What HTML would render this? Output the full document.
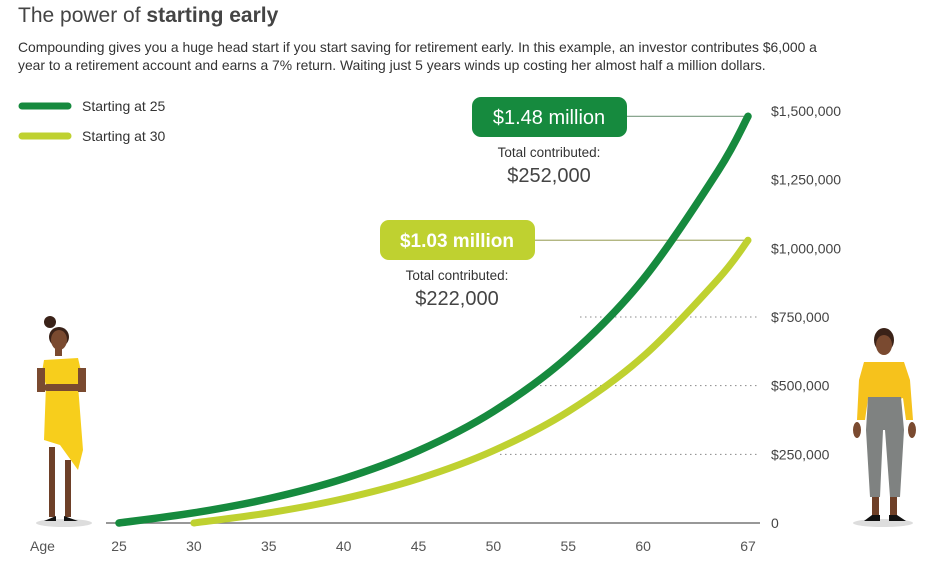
<!DOCTYPE html>
<html><head><meta charset="utf-8"><style>
body{margin:0;background:#fff;width:936px;height:570px;overflow:hidden;font-family:"Liberation Sans",sans-serif;color:#333}
#t{position:absolute;left:18px;top:4px;font-size:21px;color:#444}
#s{position:absolute;left:18px;top:38px;font-size:13.9px;line-height:18px;color:#333;width:820px}
svg{position:absolute;left:0;top:0}
</style></head><body>
<div id="t">The power of <b>starting early</b></div>
<div id="s">Compounding gives you a huge head start if you start saving for retirement early. In this example, an investor contributes $6,000 a year to a retirement account and earns a 7% return. Waiting just 5 years winds up costing her almost half a million dollars.</div>
<svg id="c" width="936" height="570"></svg>
<script>
const ages25=[25,30,35,40,45,50,55,60,65,67];
const vals25=[0,36920,88700,161330,263190,405960,606450,887500,1281600,1480700];
const ages30=[30,35,40,45,50,55,60,65,67];
const vals30=[0,36920,88700,161330,263190,405960,606450,887500,1029400];
const xTicks=[25,30,35,40,45,50,55,60,67];
const yTicks=[0,250000,500000,750000,1000000,1250000,1500000];
const yLabels=["0","$250,000","$500,000","$750,000","$1,000,000","$1,250,000","$1,500,000"];
const gridStart=[0,500,540,580,0,0,0];
const NS="http://www.w3.org/2000/svg";
const svg=document.getElementById('c');
const X=a=>119+(a-25)*(748-119)/42;
const Y=v=>523-v*412/1500000;
function mk(t,at,p){const e=document.createElementNS(NS,t);for(const k in at)e.setAttribute(k,at[k]);(p||svg).appendChild(e);return e;}
const ax=mk('line',{x1:106,y1:523,x2:760,y2:523,stroke:'#777','stroke-width':1.5});


yTicks.forEach((v,i)=>{
  if(gridStart[i]>0){const g=mk('line',{x1:gridStart[i],y1:Y(v),x2:760,y2:Y(v),stroke:'#888','stroke-width':1,'stroke-dasharray':'1.5 3.5'});
  
  }
  const t=mk('text',{x:771,y:Y(v)+5,'font-size':14,fill:'#444'});t.textContent=yLabels[i];
  
  
});
xTicks.forEach(a=>{const t=mk('text',{x:X(a),y:551,'font-size':14,fill:'#555','text-anchor':'middle'});t.textContent=a;
  
  });
const ag=mk('text',{x:30,y:551,'font-size':14,fill:'#555'});ag.textContent='Age';


function path(ages,vals){const p=ages.map((a,i)=>[X(a),Y(vals[i])]);let d='M'+p[0][0]+','+p[0][1];
  for(let i=0;i<p.length-1;i++){const p0=p[i-1]||p[i],p1=p[i],p2=p[i+1],p3=p[i+2]||p2;
   d+=` C${p1[0]+(p2[0]-p0[0])/6},${p1[1]+(p2[1]-p0[1])/6} ${p2[0]-(p3[0]-p1[0])/6},${p2[1]-(p3[1]-p1[1])/6} ${p2[0]},${p2[1]}`;}return d;}
const c1=mk('line',{x1:627,y1:Y(vals25[vals25.length-1]),x2:748,y2:Y(vals25[vals25.length-1]),stroke:'#7a9a80','stroke-width':1.2});


const c2=mk('line',{x1:535,y1:Y(vals30[vals30.length-1]),x2:748,y2:Y(vals30[vals30.length-1]),stroke:'#a8ad70','stroke-width':1.2});


const l30=mk('path',{d:path(ages30,vals30),fill:'none',stroke:'#bfd130','stroke-width':7,'stroke-linecap':'round'});


const l25=mk('path',{d:path(ages25,vals25),fill:'none',stroke:'#168a3e','stroke-width':7.5,'stroke-linecap':'round'});


</script>
<svg width="936" height="570">
<g>
<line x1="22" y1="106" x2="68" y2="106" stroke="#168a3e" stroke-width="7" stroke-linecap="round"/>
<text x="82" y="111" font-size="14" fill="#333">Starting at 25</text>
<line x1="22" y1="136" x2="68" y2="136" stroke="#bfd130" stroke-width="7" stroke-linecap="round"/>
<text x="82" y="141" font-size="14" fill="#333">Starting at 30</text>
</g>
<g>
<rect x="472" y="97" width="155" height="40" rx="9" fill="#168a3e"/>
<text x="549" y="124" font-size="20" fill="#fff" text-anchor="middle">$1.48 million</text>
<text x="549" y="157" font-size="13.5" fill="#333" text-anchor="middle">Total contributed:</text>
<text x="549" y="182" font-size="20" fill="#444" text-anchor="middle">$252,000</text>
</g>
<g>
<rect x="380" y="220" width="155" height="40" rx="9" fill="#bfd130"/>
<text x="457" y="247" font-size="19" font-weight="bold" fill="#fff" text-anchor="middle">$1.03 million</text>
<text x="457" y="280" font-size="13.5" fill="#333" text-anchor="middle">Total contributed:</text>
<text x="457" y="305" font-size="20" fill="#444" text-anchor="middle">$222,000</text>
</g>
<g>
<ellipse cx="64" cy="523" rx="28" ry="4" fill="#ddd"/>
<circle cx="50" cy="322" r="6" fill="#3a2218"/>
<circle cx="59" cy="337" r="10" fill="#3a2218"/>
<ellipse cx="59" cy="340" rx="8" ry="10" fill="#7a4a30"/>
<rect x="55" y="348" width="7" height="8" fill="#7a4a30"/>
<path d="M44,360 L78,358 L82,375 L78,385 L83,450 L78,470 L60,445 L44,440 L46,385 L42,372 Z" fill="#f7ce1c"/>
<rect x="37" y="368" width="8" height="24" fill="#7a4a30"/>
<rect x="78" y="368" width="8" height="24" fill="#7a4a30"/>
<rect x="44" y="384" width="38" height="7" rx="3" fill="#7a4a30"/>
<rect x="49" y="447" width="6" height="70" fill="#6e4028"/>
<rect x="65" y="460" width="6" height="57" fill="#6e4028"/>
<path d="M44,521 L56,516 L56,521 Z M64,516 L78,521 L64,521 Z" fill="#111"/>
</g>
<g>
<ellipse cx="883" cy="523" rx="30" ry="4" fill="#ddd"/>
<ellipse cx="884" cy="340" rx="10" ry="12" fill="#3a2218"/>
<ellipse cx="884" cy="345" rx="8" ry="10" fill="#7a4a30"/>
<path d="M864,362 L904,362 L910,380 L913,420 L906,420 L903,398 L903,398 L900,399 L868,399 L865,420 L857,420 L859,380 Z" fill="#f6c21c"/>
<path d="M868,397 L901,397 L904,430 L900,497 L890,497 L885,430 L883,430 L880,497 L870,497 L866,430 Z" fill="#7f8281"/>
<ellipse cx="857" cy="430" rx="4" ry="8" fill="#7a4a30"/>
<ellipse cx="912" cy="430" rx="4" ry="8" fill="#7a4a30"/>
<rect x="872" y="497" width="7" height="20" fill="#6e4028"/>
<rect x="890" y="497" width="7" height="20" fill="#6e4028"/>
<path d="M864,521 L872,515 L880,515 L880,521 Z M889,515 L897,515 L906,521 L889,521 Z" fill="#111"/>
</g>
</svg>
</body></html>
